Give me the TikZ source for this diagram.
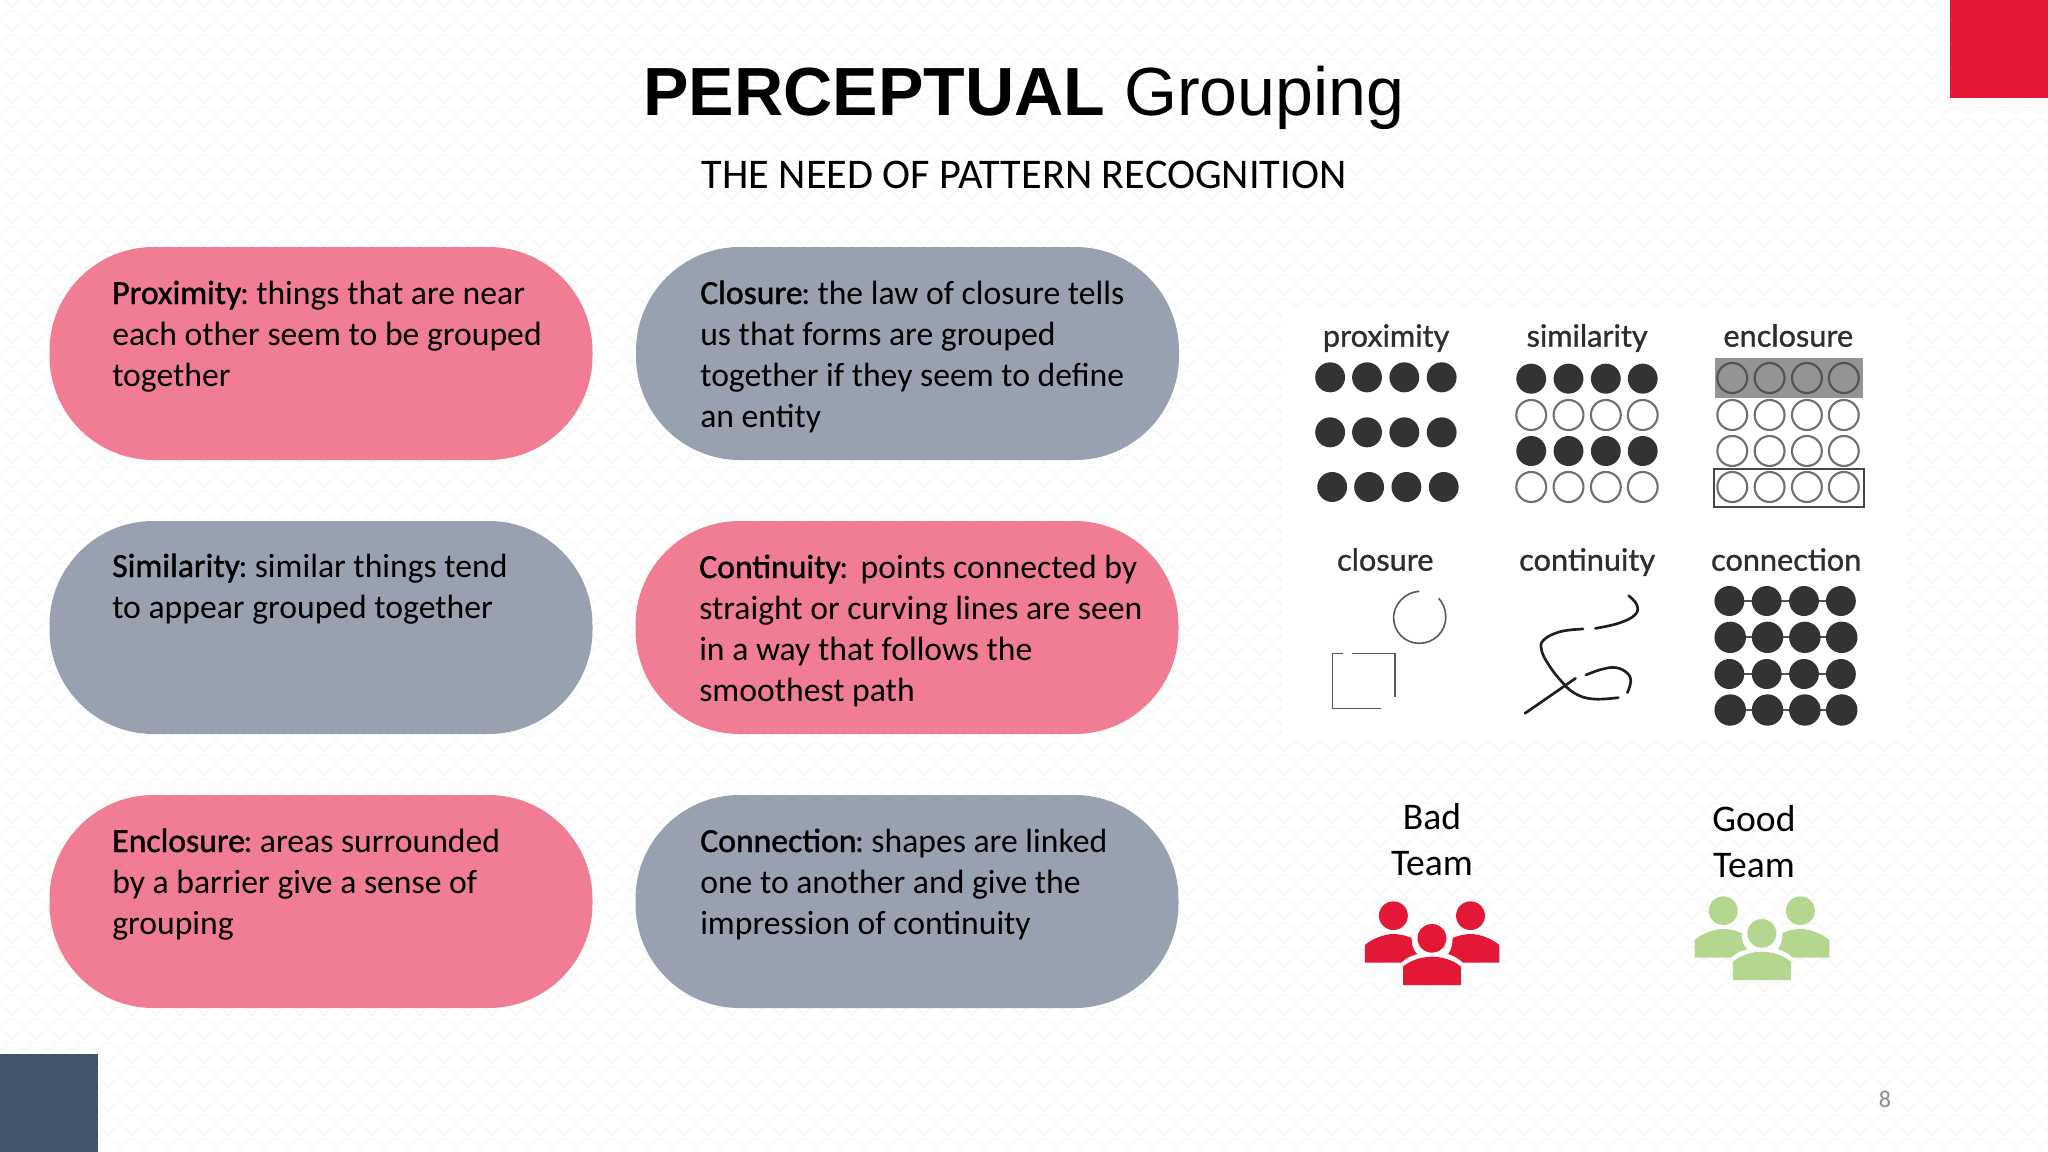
\documentclass[tikz,border=0pt]{standalone}
\usepackage{fontspec}
\usetikzlibrary{patterns}
\setmainfont{Carlito}
\newfontfamily\titlefont{Liberation Sans}
\newfontfamily\fakebold[FakeBold=1.2]{Carlito}
\newfontfamily\gillfont[FakeBold=1]{Lato}
\definecolor{pinkpill}{HTML}{F07D94}
\definecolor{greypill}{HTML}{97A1AF}
\definecolor{redsq}{HTML}{E31837}
\definecolor{navysq}{HTML}{44546A}
\definecolor{greenteam}{HTML}{B5D68E}
\definecolor{dotdark}{HTML}{333333}
\definecolor{texture}{HTML}{F6F6F8}
\pgfdeclarepatternformonly{scales}{\pgfqpoint{-1pt}{-1pt}}{\pgfqpoint{19pt}{19pt}}{\pgfqpoint{18pt}{18pt}}{%
  \pgfsetlinewidth{0.9pt}%
  \pgfpathmoveto{\pgfqpoint{0pt}{3pt}}%
  \pgfpathcurveto{\pgfqpoint{4pt}{12pt}}{\pgfqpoint{14pt}{12pt}}{\pgfqpoint{18pt}{3pt}}%
  \pgfpathmoveto{\pgfqpoint{-9pt}{12pt}}%
  \pgfpathcurveto{\pgfqpoint{-5pt}{21pt}}{\pgfqpoint{5pt}{21pt}}{\pgfqpoint{9pt}{12pt}}%
  \pgfpathmoveto{\pgfqpoint{9pt}{12pt}}%
  \pgfpathcurveto{\pgfqpoint{13pt}{21pt}}{\pgfqpoint{23pt}{21pt}}{\pgfqpoint{27pt}{12pt}}%
  \pgfusepath{stroke}}
\newcommand{\termb}[1]{{\fakebold #1}\kern-1pt\relax:\kern-2.2pt\relax}
\newcommand{\plines}[1]{\begin{tabular}[t]{@{}l@{}}#1\end{tabular}}
\tikzset{
  pill/.style={minimum width=543*0.75pt,minimum height=213*0.75pt,rounded corners=104*0.75pt,inner sep=0pt,draw=none},
  pilltext/.style={anchor=base west,inner sep=0pt,font=\fontsize{25.25}{30.9}\selectfont,text=black},
  teamtext/.style={anchor=base,inner sep=0pt,font=\fontsize{28.2}{32}\selectfont,text=black},
  figlabel/.style={anchor=base,inner sep=0pt,font=\gillfont\fontsize{23}{26}\selectfont,text=dotdark!90!black},
  dotfill/.style={fill=dotdark},
  dotopen/.style={draw=dotdark!70,line width=1.6pt,fill=white},
  hand/.style={draw=black!88,line width=2pt,line cap=round},
  thin hand/.style={draw=black!65,line width=1.2pt},
}
\begin{document}
\begin{tikzpicture}[x=0.75pt,y=-0.75pt]
\useasboundingbox (0,0) rectangle (2048,1152);
\fill[white] (0,0) rectangle (2048,1152);
\fill[pattern=scales,pattern color=texture] (0,0) rectangle (2048,1152);
\fill[redsq] (1950,0) rectangle (2048,98);
\fill[navysq] (0,1054) rectangle (98,1152);

% title
\node[anchor=base,inner sep=0pt,font=\titlefont\fontsize{51.1}{60}\selectfont] (title) at (1024,116)
  {\textbf{PERCEPTUAL} Grouping};
\node[anchor=base,inner sep=0pt,font=\fontsize{31.7}{36}\selectfont] (subtitle) at (1024,189)
  {THE NEED OF PATTERN RECOGNITION};

% pills
\node[pill,fill=pinkpill] (pa) at (321,353.5) {};
\node[pill,fill=greypill] (pb) at (907.5,353.5) {};
\node[pill,fill=greypill] (pc) at (321,627.5) {};
\node[pill,fill=pinkpill] (pd) at (907,627.5) {};
\node[pill,fill=pinkpill] (pe) at (321,901.5) {};
\node[pill,fill=greypill] (pf) at (907,901.5) {};

\node[pilltext] (ta) at (112,304) {\plines{\termb{Proximity} things that are near\\each other seem to be grouped\\together}};
\node[pilltext] (tb) at (700,304) {\plines{\termb{Closure} the law of closure tells\\us that forms are grouped\\together if they seem to define\\an entity}};
\node[pilltext] (tc) at (112,577) {\plines{\termb{Similarity} similar things tend\\to appear grouped together}};
\node[pilltext] (td) at (699,578) {\plines{\termb{Continuity}\ \ points connected by\\straight or curving lines are seen\\in a way that follows the\\smoothest path}};
\node[pilltext] (te) at (112,852) {\plines{\termb{Enclosure} areas surrounded\\by a barrier give a sense of\\grouping}};
\node[pilltext] (tf) at (700,852) {\plines{\termb{Connection} shapes are linked\\one to another and give the\\impression of continuity}};

% figure panel
\fill[white] (1283,307) rectangle (1907,742);
\begin{scope}[shift={(1270,300)},x=0.31095pt,y=-0.25pt]
  \node[figlabel] (lp) at (280,140) {proximity};
  \node[figlabel] (ls) at (765,140) {similarity};
  \node[figlabel] (le) at (1250,140) {enclosure};
  \node[figlabel] (lc) at (278,812) {closure};
  \node[figlabel] (lt) at (765,812) {continuity};
  \node[figlabel] (ln) at (1245,812) {connection};
  % proximity
  \foreach \x in {145,234,324,414}{
    \fill[dotfill] (\x,232) ellipse [x radius=36,y radius=45];
    \fill[dotfill] (\x,397) ellipse [x radius=36,y radius=45];
    \fill[dotfill] (\x+5,561) ellipse [x radius=36,y radius=45];
  }
  % similarity
  \foreach \x in {630,720,810,899}{
    \fill[dotfill] (\x,236) ellipse [x radius=36,y radius=45];
    \filldraw[dotopen] (\x,345) ellipse [x radius=36,y radius=45];
    \fill[dotfill] (\x,453) ellipse [x radius=36,y radius=45];
    \filldraw[dotopen] (\x,561) ellipse [x radius=36,y radius=45];
  }
  % enclosure
  \fill[black!42] (1073,175) rectangle (1430,293);
  \foreach \x in {1115,1205,1295,1384}{
    \draw[draw=dotdark!85,line width=1.6pt] (\x,234) ellipse [x radius=36,y radius=45];
    \filldraw[dotopen] (\x,345) ellipse [x radius=36,y radius=45];
    \filldraw[dotopen] (\x,453) ellipse [x radius=36,y radius=45];
    \filldraw[dotopen] (\x,561) ellipse [x radius=36,y radius=45];
  }
  \draw[draw=dotdark!90,line width=1.7pt] (1071,507) rectangle (1432,621);
  % closure
  \draw[thin hand] (360,874) .. controls (325,876) and (298,915) .. (298,952)
     .. controls (298,995) and (325,1030) .. (360,1030)
     .. controls (395,1030) and (424,995) .. (424,952)
     .. controls (424,930) and (418,910) .. (407,895);
  \draw[thin hand] (175,1060) -- (151,1060) -- (151,1225) -- (268,1225);
  \draw[thin hand] (197,1060) -- (302,1060) -- (302,1192);
  % continuity
  \draw[hand] plot[smooth,tension=0.7] coordinates {(865,887) (885,915) (880,945) (840,970) (785,985)};
  \draw[hand] plot[smooth,tension=0.7] coordinates {(755,987) (700,995) (660,1020) (655,1050) (670,1090) (700,1140) (735,1180) (780,1197) (840,1193)};
  \draw[hand] (615,1240) -- (737,1135);
  \draw[hand] plot[smooth,tension=0.7] coordinates {(762,1125) (800,1108) (835,1103) (862,1120) (870,1145) (862,1178)};
  % connection
  \foreach \y/\dx/\rx/\ry in {903/0/36/45,1012/2/38/47,1122/0/36/45,1230/2/38/47}{
    \draw[draw=dotdark!85,line width=1.5pt] (1108+\dx,\y) -- (1378+\dx,\y);
    \foreach \x in {1108,1198,1288,1377}{
      \fill[dotfill] (\x+\dx,\y) ellipse [x radius=\rx,y radius=\ry];
    }
  }
\end{scope}

% team icons
\newcommand{\teamicon}[1]{%
  \fill[#1] (155,407) ellipse [x radius=42,y radius=43];
  \fill[#1] (379,407) ellipse [x radius=42,y radius=43];
  \fill[#1] (72,548) -- (72,495) .. controls (95,475) and (130,462) .. (155,462)
     .. controls (175,462) and (195,468) .. (208,474) .. controls (208,495) and (212,510) .. (224,522)
     .. controls (205,528) and (190,535) .. (178,548) -- cycle;
  \fill[#1] (463,548) -- (463,495) .. controls (440,475) and (405,462) .. (379,462)
     .. controls (360,462) and (340,468) .. (327,474) .. controls (327,495) and (323,510) .. (314,522)
     .. controls (330,528) and (345,535) .. (357,548) -- cycle;
  \fill[#1] (267,475) ellipse [x radius=42,y radius=43];
  \fill[#1] (183,615) -- (183,560) .. controls (205,540) and (240,530) .. (267,530)
     .. controls (295,530) and (330,540) .. (351,560) -- (351,615) -- cycle;
}
\begin{scope}[shift={(1340,780)},x=0.25826pt,y=-0.25pt]
  \teamicon{redsq}
\end{scope}
\begin{scope}[shift={(1340,775)},x=0.25826pt,y=-0.25pt,shift={(958,0)}]
  \teamicon{greenteam}
\end{scope}
\node[teamtext] (bad1) at (1432,829) {Bad};
\node[teamtext] (bad2) at (1432,875) {Team};
\node[teamtext] (good1) at (1754,831) {Good};
\node[teamtext] (good2) at (1754,877) {Team};

\node[anchor=base,inner sep=0pt,text=black!45,font=\fontsize{18}{20}\selectfont] (pageno) at (1885,1107) {8};
\end{tikzpicture}
\end{document}
